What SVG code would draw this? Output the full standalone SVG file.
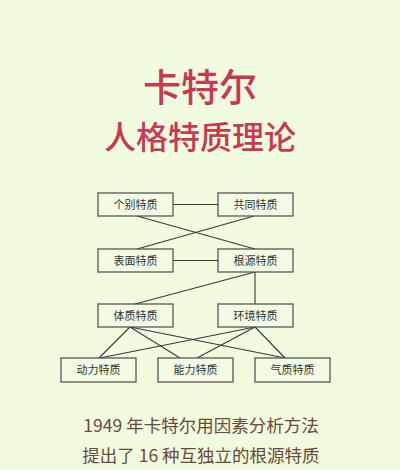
<svg xmlns="http://www.w3.org/2000/svg" width="400" height="470" viewBox="0 0 400 470">
<style>
.bg{fill:#f0fbdf}
.title{font-family:"Noto Sans CJK SC","Noto Sans",sans-serif;font-weight:500;fill:#c83a52;text-anchor:middle}
.box{fill:#f2fce4;stroke:#4a4a4a;stroke-width:1.2}
.lbl{font-family:"Noto Sans CJK SC","Noto Sans",sans-serif;font-size:11px;fill:#333;text-anchor:middle}
.conn line{stroke:#3a3a3a;stroke-width:1.1}
.foot{font-family:"Noto Sans CJK SC","Noto Sans",sans-serif;font-size:17.5px;fill:#6b4a3a;text-anchor:middle}
</style>
<rect class="bg" x="0" y="0" width="400" height="470"/>
<text class="title" x="200" y="101" font-size="38">卡特尔</text>
<text class="title" x="200" y="149" font-size="32">人格特质理论</text>
<g class="conn">
<line x1="173" y1="204.5" x2="218" y2="204.5"/>
<line x1="137" y1="216" x2="255" y2="249"/>
<line x1="254" y1="216" x2="137" y2="249"/>
<line x1="173" y1="260.5" x2="218" y2="260.5"/>
<line x1="255" y1="272" x2="135" y2="304"/>
<line x1="255" y1="272" x2="255" y2="304"/>
<line x1="130" y1="327" x2="99" y2="358"/>
<line x1="130" y1="327" x2="180" y2="358"/>
<line x1="130" y1="327" x2="285" y2="358"/>
<line x1="255" y1="327" x2="100" y2="358"/>
<line x1="255" y1="327" x2="197" y2="358"/>
<line x1="255" y1="327" x2="285" y2="358"/>
</g>
<g id="n1"><rect class="box" x="98" y="193" width="75" height="23"/><text class="lbl" x="135.5" y="208.5">个别特质</text></g>
<g id="n2"><rect class="box" x="218" y="193" width="75" height="23"/><text class="lbl" x="255.5" y="208.5">共同特质</text></g>
<g id="n3"><rect class="box" x="98" y="249" width="75" height="23"/><text class="lbl" x="135.5" y="264.5">表面特质</text></g>
<g id="n4"><rect class="box" x="218" y="249" width="75" height="23"/><text class="lbl" x="255.5" y="264.5">根源特质</text></g>
<g id="n5"><rect class="box" x="98" y="304" width="75" height="23"/><text class="lbl" x="135.5" y="319.5">体质特质</text></g>
<g id="n6"><rect class="box" x="218" y="304" width="75" height="23"/><text class="lbl" x="255.5" y="319.5">环境特质</text></g>
<g id="n7"><rect class="box" x="61" y="358" width="75" height="24"/><text class="lbl" x="98.5" y="374">动力特质</text></g>
<g id="n8"><rect class="box" x="158" y="358" width="75" height="24"/><text class="lbl" x="195.5" y="374">能力特质</text></g>
<g id="n9"><rect class="box" x="255" y="358" width="75" height="24"/><text class="lbl" x="292.5" y="374">气质特质</text></g>
<text class="foot" x="201" y="432">1949 年卡特尔用因素分析方法</text>
<text class="foot" x="201" y="462">提出了 16 种互独立的根源特质</text>
</svg>
